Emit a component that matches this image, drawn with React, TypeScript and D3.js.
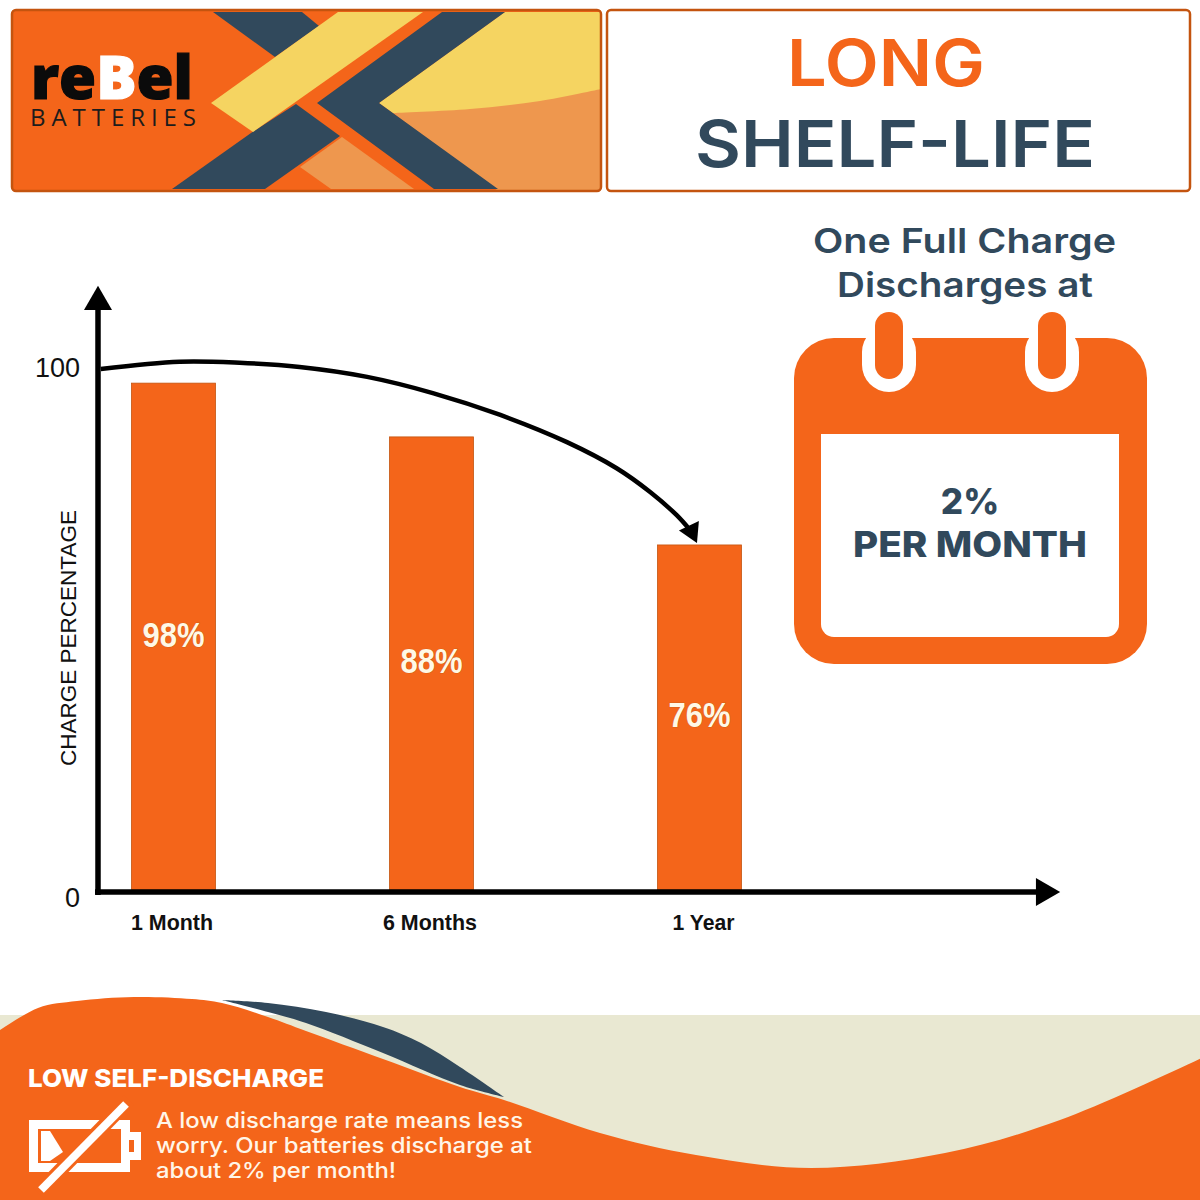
import { useEffect, useRef } from "react";
import * as d3 from "d3";

// chart values
const periods = ["1 Month", "6 Months", "1 Year"];
const barLabels = ["98%", "88%", "76%"];
// the bars are not drawn to their labels in the reference, so heights are kept apart
const barHeights = [97.1, 86.8, 66.1];
const yTicks = [0, 100];
const trendX = [0.4, 8.8, 15.2, 21.6, 28.8, 35.8, 43, 50.1, 55.4, 59, 61.8, 63.2];
const trendY = [99.8, 101.2, 101, 100.2, 98.3, 95.2, 91, 85.8, 80.8, 76.2, 71.8, 69];

const bodyLines = [
  "A low discharge rate means less",
  "worry. Our batteries discharge at",
  "about 2% per month!",
];

const ORANGE = "#f4651a";
const EDGE = "#c4540f";
const NAVY = "#31495c";
const YELLOW = "#f5d461";
const PEACH = "#ee974e";
const CREAM = "#e9e8d2";

const SANS = "Inter, 'Open Sans', sans-serif";
const ARIAL = "'Liberation Sans', Arial, sans-serif";

type Pt = [number, number];

const wave: Pt[] = [
  [-10, 1037], [38, 1008], [77, 1001], [134, 997], [192, 999], [222, 1003], [268, 1017],
  [306, 1031], [383, 1059], [460, 1087], [504, 1100], [600, 1133], [696, 1155], [811, 1168],
  [945, 1153], [1060, 1120], [1210, 1054],
];
const sliverTop: Pt[] = [
  [222, 1000], [268, 1003], [326, 1012], [383, 1027], [421, 1043], [460, 1067], [504, 1097],
];
const sliverBottom: Pt[] = [
  [504, 1097], [460, 1085], [383, 1053], [306, 1023], [268, 1012], [222, 1000],
];
const bannerSweep: Pt[] = [[393, 113], [470, 109], [540, 101], [601, 89]];

export default function App() {
  const svgRef = useRef<SVGSVGElement>(null);

  useEffect(() => {
    if (!svgRef.current) return;
    const svg = d3.select(svgRef.current);
    svg.selectAll("*").remove();

    const poly = (pts: Pt[], fill: string, parent = svg as any) =>
      parent
        .append("path")
        .attr("d", `M${pts.map((p) => p.join(",")).join("L")}Z`)
        .attr("fill", fill);

    const label = (
      txt: string,
      x: number,
      y: number,
      size: number,
      weight: number,
      fill: string,
      family: string,
      length?: number
    ) => {
      const t = svg
        .append("text")
        .attr("x", x)
        .attr("y", y)
        .attr("font-size", size)
        .attr("font-weight", weight)
        .attr("font-family", family)
        .attr("fill", fill)
        .text(txt);
      if (length) t.attr("textLength", length).attr("lengthAdjust", "spacingAndGlyphs");
      return t;
    };

    svg.append("rect").attr("width", 1200).attr("height", 1200).attr("fill", "#fff");

    const smooth = d3.line<Pt>().curve(d3.curveCatmullRom.alpha(0.5));

    // Logo banner
    const defs = svg.append("defs");
    defs
      .append("clipPath")
      .attr("id", "bannerClip")
      .append("rect")
      .attr("x", 12)
      .attr("y", 10)
      .attr("width", 589)
      .attr("height", 181)
      .attr("rx", 4);
    svg
      .append("rect")
      .attr("x", 12)
      .attr("y", 10)
      .attr("width", 589)
      .attr("height", 181)
      .attr("rx", 4)
      .attr("fill", ORANGE);
    const banner = svg.append("g").attr("clip-path", "url(#bannerClip)");
    banner
      .append("path")
      .attr("d", "M379,103L505,12H601V191H498Z")
      .attr("fill", PEACH);
    banner
      .append("path")
      .attr("d", `M505,12H601V89${smooth([...bannerSweep].reverse())!.replace("M601,89", "")}L379,103Z`)
      .attr("fill", YELLOW);
    poly([[342, 137], [414, 189], [331, 189], [300, 167]], PEACH, banner);
    poly([[213, 12], [302, 12], [319, 26], [275, 57]], NAVY, banner);
    poly([[296, 104], [340, 136], [265, 189], [172, 189], [251, 133]], NAVY, banner);
    poly([[442, 12], [505, 12], [379, 103], [498, 189], [434, 189], [317, 103]], NAVY, banner);
    poly([[338, 12], [423, 12], [253, 132], [211, 103]], YELLOW, banner);
    svg
      .append("rect")
      .attr("x", 12)
      .attr("y", 10)
      .attr("width", 589)
      .attr("height", 181)
      .attr("rx", 4)
      .attr("fill", "none")
      .attr("stroke", EDGE)
      .attr("stroke-width", 2.5);

    const logo = label("re", 31, 99, 60, 800, "#0b0b0b", "'Open Sans', sans-serif");
    logo.attr("stroke", "#0b0b0b").attr("stroke-width", 1.2);
    logo.append("tspan").attr("fill", "#fff").attr("stroke", "#fff").text("B");
    logo.append("tspan").text("el");
    logo.attr("textLength", 162).attr("lengthAdjust", "spacingAndGlyphs");
    label("BATTERIES", 30, 126, 24, 400, "#1c1c1c", "'Open Sans', sans-serif")
      .attr("textLength", 166)
      .attr("lengthAdjust", "spacing");

    // Title box
    svg
      .append("rect")
      .attr("x", 607)
      .attr("y", 10)
      .attr("width", 583)
      .attr("height", 181)
      .attr("rx", 4)
      .attr("fill", "#fff")
      .attr("stroke", EDGE)
      .attr("stroke-width", 2.5);
    label("LONG", 787, 86, 65, 600, ORANGE, SANS, 198);
    label("SHELF-LIFE", 695, 167, 65, 600, NAVY, SANS, 400);

    // Calendar
    label("One Full Charge", 813, 253, 34, 600, NAVY, SANS, 303);
    label("Discharges at", 837, 297, 34, 600, NAVY, SANS, 256);
    svg
      .append("rect")
      .attr("x", 794)
      .attr("y", 338)
      .attr("width", 353)
      .attr("height", 326)
      .attr("rx", 40)
      .attr("fill", ORANGE);
    [889, 1052].forEach((cx) => {
      svg
        .append("rect")
        .attr("x", cx - 27)
        .attr("y", 325)
        .attr("width", 54)
        .attr("height", 67)
        .attr("rx", 27)
        .attr("fill", "#fff");
      svg
        .append("rect")
        .attr("x", cx - 14)
        .attr("y", 312)
        .attr("width", 28)
        .attr("height", 67)
        .attr("rx", 14)
        .attr("fill", ORANGE);
    });
    svg
      .append("path")
      .attr("d", "M821,434H1119V624a13,13 0 0 1 -13,13H834a13,13 0 0 1 -13,-13Z")
      .attr("fill", "#fff");
    label("2%", 970, 514, 35, 800, NAVY, SANS).attr("text-anchor", "middle");
    label("PER MONTH", 853, 557, 35, 800, NAVY, SANS, 234);

    // Bottom band
    svg
      .append("rect")
      .attr("y", 1015)
      .attr("width", 1200)
      .attr("height", 185)
      .attr("fill", CREAM);
    svg
      .append("path")
      .attr("d", `${smooth(wave)}L1210,1210L-10,1210Z`)
      .attr("fill", ORANGE);
    svg
      .append("path")
      .attr("d", `${smooth(sliverTop)}${smooth(sliverBottom)!.replace("M", "L")}Z`)
      .attr("fill", NAVY);
    label("LOW SELF-DISCHARGE", 28, 1087, 25, 800, "#fff", SANS, 296);
    const widths = [367, 376, 240];
    bodyLines.forEach((line, i) => {
      label(line, 156, 1128 + i * 25, 21, 500, "#fff6e8", SANS, widths[i]);
    });

    // Battery icon
    svg
      .append("path")
      .attr(
        "d",
        "M29,1120H130V1132H141V1160H130V1172H29ZM38,1129V1163H121V1129ZM129,1140V1152H134V1140Z"
      )
      .attr("fill", "#fff")
      .attr("fill-rule", "evenodd");
    poly([[41, 1131], [50, 1131], [63, 1152], [50, 1161], [41, 1161]], "#fff");
    svg
      .append("line")
      .attr("x1", 129)
      .attr("y1", 1100)
      .attr("x2", 38)
      .attr("y2", 1193)
      .attr("stroke", ORANGE)
      .attr("stroke-width", 14);
    svg
      .append("line")
      .attr("x1", 126)
      .attr("y1", 1104)
      .attr("x2", 41)
      .attr("y2", 1190)
      .attr("stroke", "#fff")
      .attr("stroke-width", 8);

    // Scales
    const x = d3.scaleOrdinal<string, number>().domain(periods).range([173.5, 431.5, 699.5]);
    const y = d3.scaleLinear().domain([0, 100]).range([890, 368]);
    const xTrend = d3.scaleLinear().domain([0, 100]).range([97, 1035]);
    const barWidth = 84;

    // Bars
    periods.forEach((p, i) => {
      svg
        .append("rect")
        .attr("x", x(p) - barWidth / 2)
        .attr("y", y(barHeights[i]))
        .attr("width", barWidth)
        .attr("height", y(0) - y(barHeights[i]))
        .attr("fill", ORANGE)
        .attr("stroke", EDGE)
        .attr("stroke-width", 0.8);
      svg
        .append("text")
        .attr("x", x(p))
        .attr("y", y(barHeights[i] / 2) + 10)
        .attr("text-anchor", "middle")
        .attr("font-family", ARIAL)
        .attr("font-weight", 700)
        .attr("font-size", 35)
        .attr("textLength", 62)
        .attr("lengthAdjust", "spacingAndGlyphs")
        .attr("fill", "#fff8e6")
        .attr("stroke", "#b9590f")
        .attr("stroke-width", 0.7)
        .attr("paint-order", "stroke")
        .text(barLabels[i]);
    });

    // Y axis
    const yAxis = svg
      .append("g")
      .attr("transform", "translate(98,0)")
      .call(d3.axisLeft(y).tickValues(yTicks).tickSize(0).tickPadding(18));
    yAxis.select(".domain").remove();
    yAxis
      .selectAll<SVGTextElement, number>("text")
      .attr("font-family", ARIAL)
      .attr("font-size", 27)
      .attr("fill", "#111")
      .attr("dy", (d) => (d === 0 ? "0.6em" : "0.32em"));
    svg
      .append("line")
      .attr("x1", 98)
      .attr("x2", 98)
      .attr("y1", 305)
      .attr("y2", 895)
      .attr("stroke", "#000")
      .attr("stroke-width", 5.5);

    // X axis
    const labelWidths = [82, 94, 62];
    const xAxis = svg
      .append("g")
      .attr("transform", "translate(0,892)")
      .call(d3.axisBottom(x).tickSize(0).tickPadding(22));
    xAxis.select(".domain").remove();
    xAxis
      .selectAll<SVGTextElement, string>("text")
      .attr("font-family", ARIAL)
      .attr("font-weight", 700)
      .attr("font-size", 22)
      .attr("textLength", (d) => labelWidths[periods.indexOf(d)])
      .attr("lengthAdjust", "spacingAndGlyphs")
      .attr("fill", "#111")
      .attr("dx", (d) => (d === "1 Year" ? 3.5 : -2));
    svg
      .append("line")
      .attr("x1", 95)
      .attr("x2", 1040)
      .attr("y1", 892)
      .attr("y2", 892)
      .attr("stroke", "#000")
      .attr("stroke-width", 5.5);

    const triangle = d3.symbol(d3.symbolTriangle);
    svg
      .append("path")
      .attr("d", triangle.size(340)()!)
      .attr("transform", "translate(98,302)");
    svg
      .append("path")
      .attr("d", triangle.size(340)()!)
      .attr("transform", "translate(1044,892) rotate(90)");

    // Axis title
    svg
      .append("text")
      .attr("transform", "translate(76,638) rotate(-90)")
      .attr("text-anchor", "middle")
      .attr("font-family", ARIAL)
      .attr("font-size", 22.5)
      .attr("fill", "#111")
      .text("CHARGE PERCENTAGE");

    // Trend arrow
    const trend = d3
      .line<number>()
      .x((d) => xTrend(d))
      .y((_, i) => y(trendY[i]))
      .curve(d3.curveCatmullRom.alpha(0.5));
    svg
      .append("path")
      .attr("d", trend(trendX)!)
      .attr("fill", "none")
      .attr("stroke", "#000")
      .attr("stroke-width", 4.5);
    svg
      .append("path")
      .attr("d", triangle.size(210)()!)
      .attr("transform", "translate(691.6,531.5) rotate(155)");
  }, []);

  return (
    <svg
      ref={svgRef}
      width={1200}
      height={1200}
      style={{ position: "absolute", top: 0, left: 0, display: "block" }}
    />
  );
}
